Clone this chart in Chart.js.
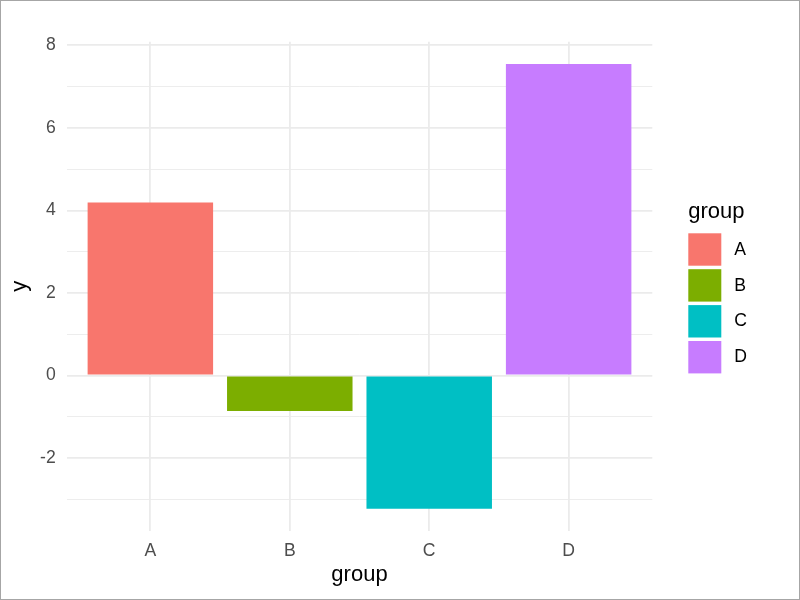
<!DOCTYPE html>
<html>
<head>
<meta charset="utf-8">
<script src="https://cdn.jsdelivr.net/npm/chart.js@4.4.0/dist/chart.umd.min.js"></script>
<style>
  html, body { margin: 0; padding: 0; background: #fff; }
  #wrap { width: 798px; height: 598px; border: 1px solid #a6a6a6; }
  canvas { display: block; }
</style>
</head>
<body>
<div id="wrap"><canvas id="chart" width="798" height="598"></canvas></div>
<script>
// values
const groups = ['A', 'B', 'C', 'D'];
const values = [4.19, -0.86, -3.23, 7.55];
const colors = ['#F8766D', '#7CAE00', '#00BFC4', '#C77CFF'];
const yTicks = [-3, -2, -1, 0, 1, 2, 3, 4, 5, 6, 7, 8];

const FONT = "'Liberation Sans', Arial, sans-serif";

// ggplot style 5% padding around the data (bars start at 0)
const lo = Math.min(0, ...values), hi = Math.max(0, ...values);
const pad = (hi - lo) * 0.05;

const legendBox = {
  id: 'legendBox',
  afterDraw(chart) {
    const ctx = chart.ctx;
    const x0 = 687.3, y0 = 232.3, step = 35.9;
    ctx.save();
    ctx.fillStyle = '#000';
    ctx.font = '22px ' + FONT;
    ctx.textAlign = 'left';
    ctx.textBaseline = 'alphabetic';
    ctx.fillText('group', x0, 217);
    ctx.font = '17.6px ' + FONT;
    ctx.textBaseline = 'middle';
    groups.forEach((g, i) => {
      const y = y0 + i * step;
      ctx.fillStyle = colors[i];
      ctx.fillRect(x0, y, 33, 32.4);
      ctx.fillStyle = '#000';
      ctx.fillText(g, x0 + 46, y + 16.5);
    });
    ctx.restore();
  }
};

new Chart(document.getElementById('chart'), {
  type: 'bar',
  data: {
    datasets: [{
      label: 'y',
      data: groups.map((g, i) => ({ x: i + 1, y: values[i] })),
      backgroundColor: colors,
      borderWidth: 0,
      categoryPercentage: 1,
      barPercentage: 0.9
    }]
  },
  options: {
    responsive: false,
    animation: false,
    layout: { padding: { left: 0, top: 40.7, right: 146.7, bottom: 0 } },
    plugins: { legend: { display: false }, tooltip: { enabled: false } },
    scales: {
      x: {
        type: 'linear',
        min: 0.4,
        max: 4.6,
        offset: false,
        afterBuildTicks: (s) => { s.ticks = groups.map((g, i) => ({ value: i + 1 })); },
        afterFit: (s) => { s.height = 68; },
        ticks: {
          autoSkip: false,
          padding: 10,
          color: '#4d4d4d',
          font: { family: FONT, size: 17.6 },
          callback: (v) => groups[v - 1]
        },
        grid: { color: '#ebebeb', lineWidth: 1.8, drawTicks: false, offset: false },
        border: { display: false },
        title: {
          display: true,
          text: 'group',
          color: '#000',
          font: { family: FONT, size: 22 },
          padding: { top: 0, bottom: 10.5 }
        }
      },
      y: {
        min: lo - pad,
        max: hi + pad,
        afterBuildTicks: (s) => { s.ticks = yTicks.map(v => ({ value: v })); },
        afterFit: (s) => { s.width = 65.7; },
        ticks: {
          autoSkip: false,
          padding: 11,
          color: '#4d4d4d',
          font: { family: FONT, size: 17.6 },
          callback: (v) => (v % 2 === 0 ? String(v) : '')
        },
        grid: {
          color: '#ebebeb',
          drawTicks: false,
          lineWidth: (c) => (c.tick && c.tick.value % 2 === 0 ? 1.8 : 0.9)
        },
        border: { display: false },
        title: {
          display: true,
          text: 'y',
          color: '#000',
          font: { family: FONT, size: 22 },
          padding: { top: 5.6, bottom: 0 }
        }
      }
    }
  },
  plugins: [legendBox]
});
</script>
</body>
</html>
